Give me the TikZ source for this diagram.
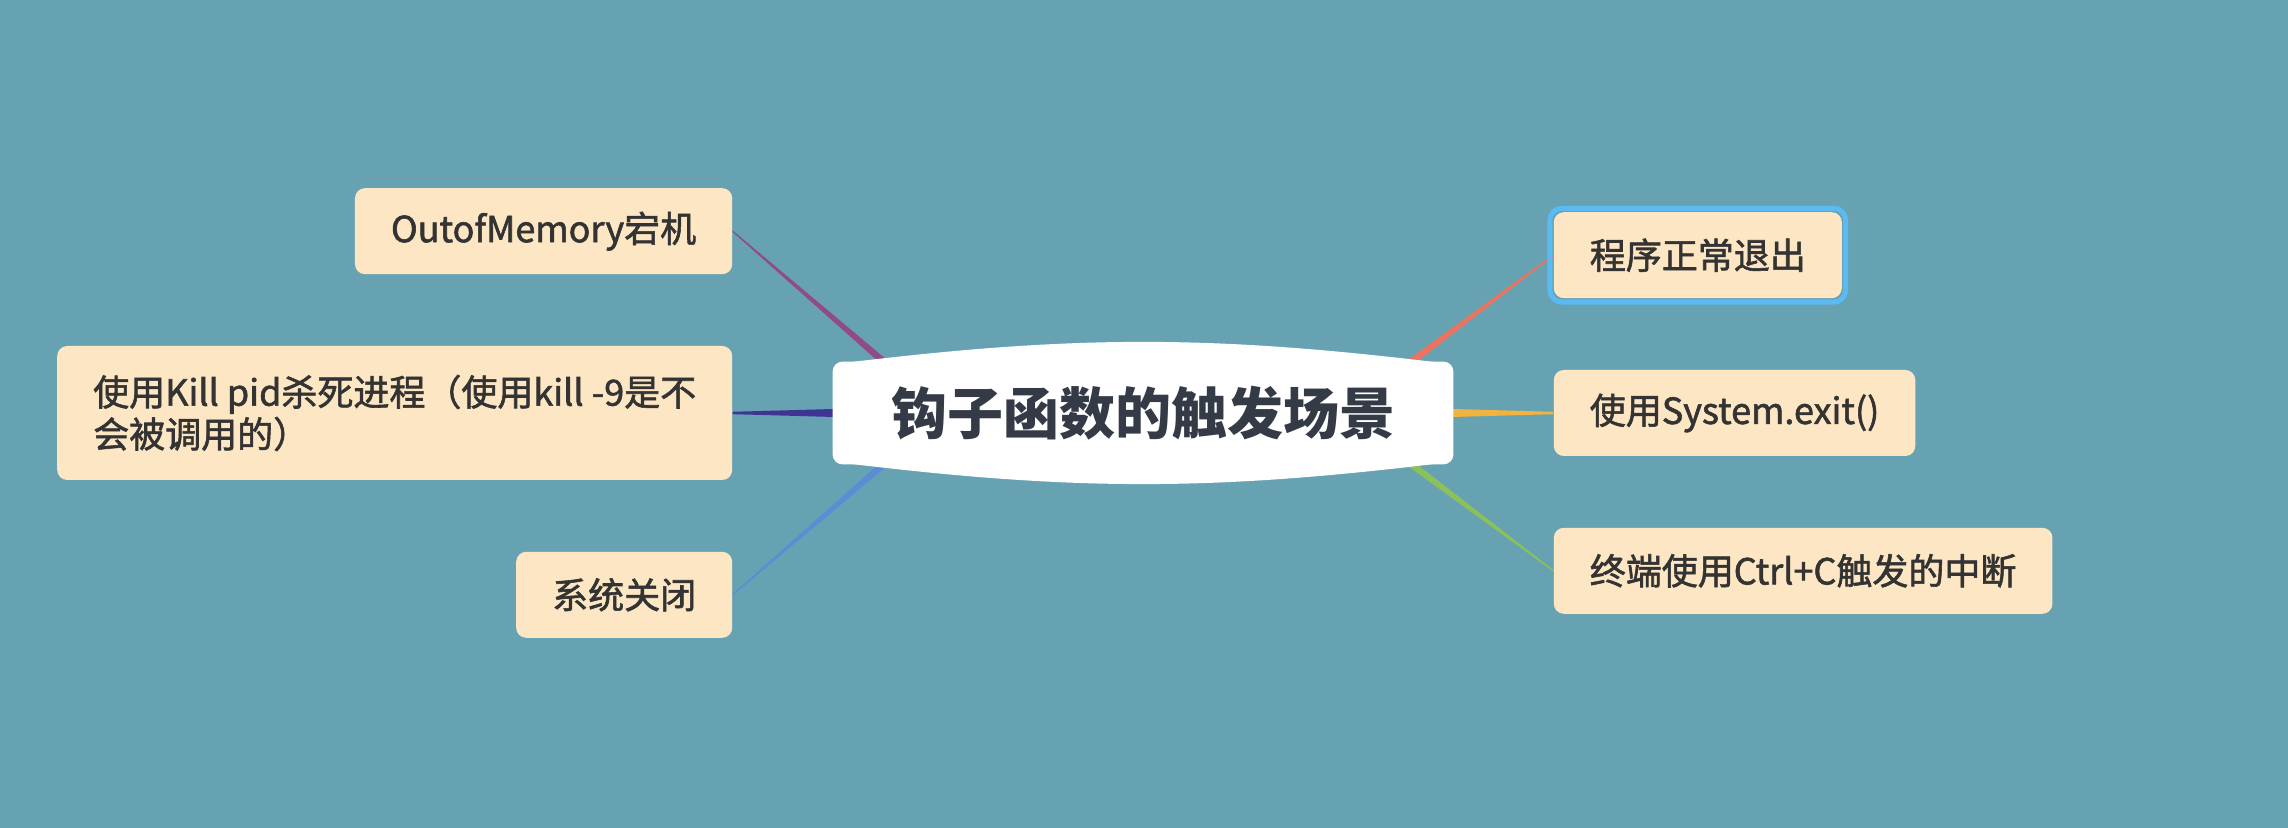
\documentclass[tikz,border=0pt]{standalone}
\usepackage{fontspec}
\newfontfamily\cjk{Noto Sans CJK SC}
\newfontfamily\cjkmid[FakeBold=1.6]{Noto Sans CJK SC}
\usetikzlibrary{positioning,calc,backgrounds}

\definecolor{canvas}{RGB}{103,162,179}
\definecolor{topicfill}{RGB}{252,230,195}
\definecolor{topictext}{RGB}{51,51,51}
\definecolor{roottext}{RGB}{52,59,70}
\definecolor{selblue}{RGB}{91,186,242}
\definecolor{oomline}{RGB}{145,75,135}
\definecolor{killline}{RGB}{63,51,147}
\definecolor{sysline}{RGB}{91,141,214}
\definecolor{progline}{RGB}{235,116,96}
\definecolor{exitline}{RGB}{243,179,62}
\definecolor{ctrlline}{RGB}{139,193,90}

\tikzstyle{root} = [font=\cjk\bfseries\fontsize{28}{34}\selectfont,text=roottext,minimum width=310pt,minimum height=51pt,inner sep=0pt]
\tikzstyle{topic} = [font=\cjkmid\fontsize{18}{21}\selectfont,text=topictext,fill=topicfill,rounded corners=5pt,minimum height=43pt,inner xsep=18pt,inner ysep=0pt,align=left]

\begin{document}
\begin{tikzpicture}
	% root
	\node (title) [root] at (571.5pt,207.5pt) {钩子函数的触发场景};
	\coordinate (lhub) at ($(title.center)+(-100pt,0)$);
	\coordinate (rhub) at ($(title.center)+(100pt,0)$);
	% left branches
	\node (kill) [topic,left=50pt of title,minimum width=335pt,minimum height=67pt] {使用Kill pid杀死进程（使用kill -9是不\\会被调用的）};
	\node (oom) [topic,above=35.5pt of kill.north east,anchor=south east] {OutofMemory宕机};
	\node (shutdown) [topic,below=35.5pt of kill.south east,anchor=north east] {系统关闭};
	% right branches
	\node (exit) [topic,right=50pt of title] {使用System.exit()};
	\node (normal) [topic,above=35.5pt of exit.north west,anchor=south west] {程序正常退出};
	\node (ctrlc) [topic,below=35.5pt of exit.south west,anchor=north west] {终端使用Ctrl+C触发的中断};
	% selection frame
	\draw [selblue,line width=2.5pt,rounded corners=6pt] ([shift={(-1.75pt,1.75pt)}]normal.north west) rectangle ([shift={(1.75pt,-1.75pt)}]normal.south east);
	% connections
	\begin{pgfonlayer}{background}
	\fill [canvas] (0,0) rectangle (1144pt,414pt);
	\fill [oomline] ($(lhub)+(0,3pt)$) -- ($(oom.east)+(0,0.4pt)$) -- ($(oom.east)+(0,-0.4pt)$) -- ($(lhub)+(0,-3pt)$) -- cycle;
	\fill [killline] ($(lhub)+(0,3.5pt)$) -- ($(kill.east)+(0,0.6pt)$) -- ($(kill.east)+(0,-0.6pt)$) -- ($(lhub)+(0,-3.5pt)$) -- cycle;
	\fill [sysline] ($(lhub)+(0,3pt)$) -- ($(shutdown.east)+(0,0.4pt)$) -- ($(shutdown.east)+(0,-0.4pt)$) -- ($(lhub)+(0,-3pt)$) -- cycle;
	\fill [progline] ($(rhub)+(0,3pt)$) -- ($(normal.west)+(0,0.4pt)$) -- ($(normal.west)+(0,-0.4pt)$) -- ($(rhub)+(0,-3pt)$) -- cycle;
	\fill [exitline] ($(rhub)+(0,3.5pt)$) -- ($(exit.west)+(0,0.6pt)$) -- ($(exit.west)+(0,-0.6pt)$) -- ($(rhub)+(0,-3.5pt)$) -- cycle;
	\fill [ctrlline] ($(rhub)+(0,3pt)$) -- ($(ctrlc.west)+(0,0.4pt)$) -- ($(ctrlc.west)+(0,-0.4pt)$) -- ($(rhub)+(0,-3pt)$) -- cycle;
	\fill [white,rounded corners=5pt] (title.north west) rectangle (title.south east);
	\fill [white] ([shift={(3pt,-1pt)}]title.north west) to[bend left=7] ([shift={(-3pt,-1pt)}]title.north east) -- cycle;
	\fill [white] ([shift={(-3pt,1pt)}]title.south east) to[bend left=7] ([shift={(3pt,1pt)}]title.south west) -- cycle;
	\end{pgfonlayer}
\end{tikzpicture}
\end{document}
